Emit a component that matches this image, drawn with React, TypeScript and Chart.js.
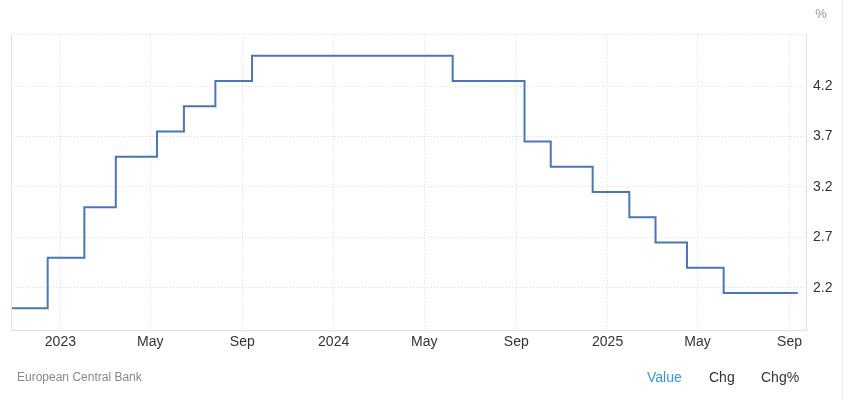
import React, { useEffect, useRef } from "react";
import { Chart, registerables } from "chart.js";

Chart.register(...registerables);

// Policy-rate change dates (first and last are the visible window ends)
const changeDates = [
  "2022-10-27", "2022-12-15", "2023-02-02", "2023-03-16", "2023-05-10",
  "2023-06-15", "2023-07-27", "2023-09-14", "2024-06-08", "2024-09-12",
  "2024-10-17", "2024-12-12", "2025-01-30", "2025-03-06", "2025-04-17",
  "2025-06-05", "2025-09-12",
];
const rates = [
  2.0, 2.5, 3.0, 3.5, 3.75, 4.0, 4.25, 4.5, 4.25, 3.65, 3.4, 3.15, 2.9, 2.65, 2.4, 2.15, 2.15,
];

const xTickDates = [
  "2023-01-01", "2023-05-01", "2023-09-01", "2024-01-01", "2024-05-01",
  "2024-09-01", "2025-01-01", "2025-05-01", "2025-09-01",
];
const xTickLabels = ["2023", "May", "Sep", "2024", "May", "Sep", "2025", "May", "Sep"];
const yTicks = [2.2, 2.7, 3.2, 3.7, 4.2];

const xRange = ["2022-10-27", "2025-09-23"];
const yRange = [1.784, 4.715];

const toDay = (s: string) => Date.parse(s + "T00:00:00Z") / 86400000;

const FONT = "'Liberation Sans', Arial, sans-serif";

export default function App() {
  const ref = useRef<HTMLCanvasElement | null>(null);

  useEffect(() => {
    document.body.style.margin = "0";
    const canvas = ref.current;
    if (!canvas) return;

    const labelMap = new Map<number, string>();
    xTickDates.forEach((d, i) => labelMap.set(toDay(d), xTickLabels[i]));

    const extras = {
      id: "extras",
      afterDraw(chart: any) {
        const { ctx, chartArea } = chart;
        ctx.save();
        ctx.strokeStyle = "#e3e3e3";
        ctx.lineWidth = 1;
        ctx.beginPath();
        ctx.moveTo(chartArea.left + 0.5, chartArea.top);
        ctx.lineTo(chartArea.left + 0.5, chartArea.bottom);
        ctx.stroke();
        ctx.fillStyle = "#999";
        ctx.font = `13px ${FONT}`;
        ctx.textAlign = "center";
        ctx.textBaseline = "middle";
        ctx.fillText("%", chartArea.right + 15, chartArea.top - 20);
        ctx.restore();
      },
    };

    const chart = new Chart(canvas, {
      type: "line",
      data: {
        datasets: [
          {
            data: changeDates.map((d, i) => ({ x: toDay(d), y: rates[i] })),
            borderColor: "#4a77b4",
            borderWidth: 2,
            pointRadius: 0,
            stepped: true,
            fill: false,
          },
        ],
      },
      options: {
        animation: false,
        responsive: false,
        maintainAspectRatio: false,
        layout: { padding: { left: 11, top: 34, right: 0, bottom: 0 } },
        plugins: { legend: { display: false }, tooltip: { enabled: false } },
        scales: {
          x: {
            type: "linear",
            min: toDay(xRange[0]),
            max: toDay(xRange[1]),
            afterBuildTicks: (scale: any) => {
              scale.ticks = xTickDates.map((d) => ({ value: toDay(d) }));
            },
            afterFit: (scale: any) => {
              scale.height = 70;
            },
            ticks: {
              autoSkip: false,
              maxRotation: 0,
              padding: 4,
              color: "#333",
              font: { family: FONT, size: 14 },
              callback: (v: any) => labelMap.get(Number(v)) ?? "",
            },
            grid: { color: "#dedede", drawTicks: false, lineWidth: 1 },
            border: { display: true, color: "#e0e0e0", dash: [1, 2] },
          },
          y: {
            position: "right",
            min: yRange[0],
            max: yRange[1],
            afterBuildTicks: (scale: any) => {
              scale.ticks = [...yTicks, yRange[1]].map((v) => ({ value: v }));
            },
            afterFit: (scale: any) => {
              scale.width = 45;
            },
            ticks: {
              padding: 7,
              color: "#333",
              font: { family: FONT, size: 14 },
              callback: (v: any) => (yTicks.includes(Number(v)) ? Number(v).toFixed(1) : ""),
            },
            grid: { color: "#dedede", drawTicks: false, lineWidth: 1 },
            border: { display: true, color: "#e0e0e0", dash: [1, 2] },
          },
        },
      },
      plugins: [extras],
    });
    return () => chart.destroy();
  }, []);

  const footText: React.CSSProperties = {
    position: "absolute",
    top: 368,
    fontFamily: FONT,
    lineHeight: "18px",
    whiteSpace: "nowrap",
  };

  return (
    <div style={{ position: "relative", width: 851, height: 400, background: "#fff" }}>
      <canvas ref={ref} width={851} height={400} style={{ display: "block" }} />
      <div style={{ position: "absolute", left: 842, top: 0, width: 1, height: 400, background: "#eeeeee" }} />
      <div style={{ ...footText, left: 17, fontSize: 12, color: "#888" }}>European Central Bank</div>
      <div style={{ ...footText, left: 647, fontSize: 14, color: "#3d95dc" }}>Value</div>
      <div style={{ ...footText, left: 709, fontSize: 14, color: "#333" }}>Chg</div>
      <div style={{ ...footText, left: 761, fontSize: 14, color: "#333" }}>Chg%</div>
    </div>
  );
}
